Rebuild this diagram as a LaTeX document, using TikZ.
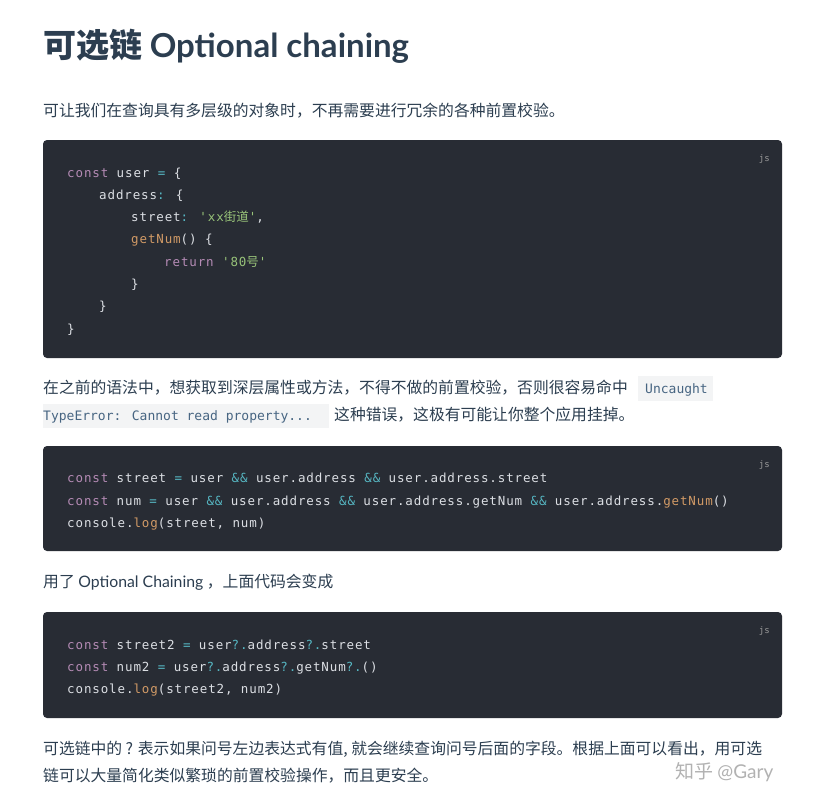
\documentclass[tikz,border=0pt]{standalone}
\usepackage{fontspec}
\setmainfont{Noto Sans CJK SC}
\newfontfamily\cjk{Noto Sans CJK SC}
\newfontfamily\lat{Lato}
\newfontfamily\code[LetterSpace=7,Ligatures=ResetAll]{DejaVu Sans Mono}
\newfontfamily\icode[Ligatures=ResetAll]{DejaVu Sans Mono}
\definecolor{txt}{HTML}{2C3E50}
\definecolor{bg}{HTML}{282C34}
\definecolor{cw}{HTML}{DCDFE4}
\definecolor{ckw}{HTML}{B58BB5}
\definecolor{cop}{HTML}{56B6C2}
\definecolor{cstr}{HTML}{98C379}
\definecolor{cfn}{HTML}{D19A66}
\definecolor{ibg}{HTML}{F3F4F5}
\definecolor{itx}{HTML}{476582}
\newcommand\kw[1]{\textcolor{ckw}{#1}}
\newcommand\op[1]{\textcolor{cop}{#1}}
\newcommand\st[1]{\textcolor{cstr}{#1}}
\newcommand\fn[1]{\textcolor{cfn}{#1}}
\newcommand\q{\char"27\relax}
\begin{document}
\begin{tikzpicture}[x=1pt,y=-1pt,
  para/.style={anchor=base west,inner sep=0,text=txt,font=\fontsize{15.8}{18}\selectfont},
  cl/.style={anchor=base west,inner sep=0,text=cw,font=\code\fontsize{12.5}{14}\selectfont},
  blk/.style={fill=bg,rounded corners=4pt,draw=none},
  js/.style={anchor=base east,inner sep=0,text=gray!80,font=\icode\fontsize{9}{10}\selectfont},
  ic/.style={anchor=base west,inner sep=0,text=itx,font=\icode\fontsize{13}{14}\selectfont},
  inl/.style={fill=ibg,inner sep=0}]
\useasboundingbox[fill=white] (0,0) rectangle (830,807);
\node[anchor=base west,inner sep=0,text=txt,font=\fontsize{33}{36}\selectfont] (title) at (43,57) {\bfseries 可选链 {\lat\bfseries Optional chaining}};
\node[para] (p1) at (43,116) {可让我们在查询具有多层级的对象时，不再需要进行冗余的各种前置校验。};
% block 1
\path[blk] (43,140) rectangle (782,358);
\node[js] (js1) at (770,161) {js};
\node[cl] (a1) at (67,177) {\kw{const} user \op{=} \{};
\node[cl] (a2) at (99,199) {address\op{:} \{};
\node[cl] (a3) at (131,221) {street\op{:} \st{\q xx{\cjk 街道}\q},};
\node[cl] (a4) at (131,243) {\fn{getNum}() \{};
\node[cl] (a5) at (164,266) {\kw{return} \st{\q 80{\cjk 号}\q}};
\node[cl] (a6) at (131,288) {\}};
\node[cl] (a7) at (99,310) {\}};
\node[cl] (a8) at (67,333) {\}};
% para 2
\path[inl] (638,376) rectangle (713,401);
\path[inl] (43,404) rectangle (329,428);
\node[para] (p2a) at (43,393) {在之前的语法中，想获取到深层属性或方法，不得不做的前置校验，否则很容易命中};
\node[ic] (ic1) at (645,393) {Uncaught};
\node[ic] (ic2) at (43,420) {TypeError: Cannot read property...};
\node[para] (p2b) at (334,420) {这种错误，这极有可能让你整个应用挂掉。};
% block 2
\path[blk] (43,446) rectangle (782,551);
\node[js] (js2) at (770,467) {js};
\node[cl] (b1) at (67,482) {\kw{const} street \op{=} user \op{\&\&} user.address \op{\&\&} user.address.street};
\node[cl] (b2) at (67,505) {\kw{const} num \op{=} user \op{\&\&} user.address \op{\&\&} user.address.getNum \op{\&\&} user.address.\fn{getNum}()};
\node[cl] (b3) at (67,527) {console.\fn{log}(street, num)};
\node[para] (p3) at (43,587) {用了 {\lat Optional Chaining} ，上面代码会变成};
% block 3
\path[blk] (43,612) rectangle (782,718);
\node[js] (js3) at (770,633) {js};
\node[cl] (c1) at (67,649) {\kw{const} street2 \op{=} user\op{?.}address\op{?.}street};
\node[cl] (c2) at (67,671) {\kw{const} num2 \op{=} user\op{?.}address\op{?.}getNum\op{?.}()};
\node[cl] (c3) at (67,693) {console.\fn{log}(street2, num2)};
\node[para] (p4a) at (43,754) {可选链中的 ? 表示如果问号左边表达式有值, 就会继续查询问号后面的字段。根据上面可以看出，用可选};
\node[para] (p4b) at (43,781) {链可以大量简化类似繁琐的前置校验操作，而且更安全。};
\node[anchor=base west,inner sep=0,text=black!30,font=\fontsize{19}{22}\selectfont] (wm) at (675,778) {知乎 {\lat @Gary}};
\end{tikzpicture}
\end{document}
